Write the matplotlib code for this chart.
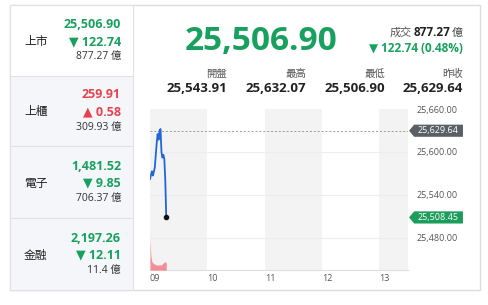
import matplotlib
matplotlib.use("Agg")
import matplotlib.pyplot as plt
from matplotlib.patches import Rectangle, Polygon
from matplotlib.transforms import blended_transform_factory

plt.rcParams['font.family'] = ['Open Sans', 'DejaVu Sans', 'Noto Sans CJK TC']

GREEN = '#17a05e'
RED = '#e5424d'

# sidebar markets
markets = ['上市', '上櫃', '電子', '金融']
market_close = [25506.90, 259.91, 1481.52, 2197.26]
market_change = [-122.74, 0.58, -9.85, -12.11]
market_turnover = ['877.27', '309.93', '706.37', '11.4']

# header
index_value = 25506.90
index_change = -122.74
index_pct = 0.48
turnover = 877.27
stat_labels = ['開盤', '最高', '最低', '昨收']
stat_values = [25543.91, 25632.07, 25506.90, 25629.64]
prev_close = 25629.64

# intraday (minutes after 09:00)
minutes = list(range(18))
prices = [25562, 25568, 25573, 25567, 25572, 25578, 25595, 25612, 25625,
          25617, 25630, 25632, 25600, 25592, 25596, 25590, 25560, 25508.45]
volume = [30, 13, 8, 7, 6, 6, 5, 5, 5, 5, 5, 5, 5, 6, 7, 8, 8, 7]
hour_ticks = [0, 60, 120, 180, 240]
hour_labels = ['09', '10', '11', '12', '13']
price_ticks = [25660, 25600, 25540, 25480]

W, H = 489, 305
fig = plt.figure(figsize=(W / 100, H / 100), dpi=100)
renderer = fig.canvas.get_renderer()

bg = fig.add_axes([0, 0, 1, 1])
bg.set_xlim(0, W)
bg.set_ylim(H, 0)
bg.axis('off')

# outer frame
bg.add_patch(Rectangle((10, 5), 470, 285, fc='white', ec='#dcdcdc', lw=1))

# sidebar cards
card_tops = [5, 76, 146, 218]
card_bottoms = [76, 146, 218, 290]
for i, name in enumerate(markets):
    y0, y1 = card_tops[i], card_bottoms[i]
    fc = 'white' if i == 0 else '#f4f6f9'
    bg.add_patch(Rectangle((10, y0), 123, y1 - y0, fc=fc, ec='#e2e2e2', lw=0.8))
    mid = (y0 + y1) / 2 + 1
    col = GREEN if market_change[i] < 0 else RED
    arrow = '▼' if market_change[i] < 0 else '▲'
    bg.text(24, mid, name, fontsize=8.5, color='#222', va='center', ha='left')
    bg.text(121, mid - 17, f'{market_close[i]:,.2f}', fontsize=9, fontweight='bold',
            color=col, ha='right', va='center')
    bg.text(121, mid, f'{arrow} {abs(market_change[i]):.2f}', fontsize=9, fontweight='bold',
            color=col, ha='right', va='center')
    bg.text(121, mid + 15, f'{market_turnover[i]} 億', fontsize=7.5, color='#333',
            ha='right', va='center')

# header
bg.text(337, 42, f'{index_value:,.2f}', fontsize=24, fontweight='bold', color=GREEN,
        ha='right', va='center')
# "成交 877.27 億" built right to left
xr = 463
for part, kw in (('億', dict(fontsize=8, color='#444')),
                 (f'{turnover:.2f}', dict(fontsize=8.5, color='#222', fontweight='bold')),
                 ('成交', dict(fontsize=8, color='#555'))):
    t = bg.text(xr, 33, part, ha='right', va='center', **kw)
    w = t.get_window_extent(renderer).width
    xr -= w + 1.5
bg.text(463, 49, f'▼ {abs(index_change):.2f} ({index_pct:.2f}%)', fontsize=8.5,
        fontweight='bold', color=GREEN, ha='right', va='center')
stat_x = [227, 306, 385, 463]
for x, lab, val in zip(stat_x, stat_labels, stat_values):
    bg.text(x, 74, lab, fontsize=7.5, color='#555', ha='right', va='center')
    bg.text(x, 88, f'{val:,.2f}', fontsize=9.5, fontweight='bold', color='#222',
            ha='right', va='center')

# price chart
x0, x1 = 150, 408
ytop, ybot = 109, 270
ax = fig.add_axes([x0 / W, 1 - ybot / H, (x1 - x0) / W, (ybot - ytop) / H])
ax.set_xlim(0, 270)
ax.set_ylim(25435, 25660)
ax.set_facecolor('white')
for s in (0, 120, 240):
    ax.axvspan(s, s + 60, color='#f3f3f3', lw=0, zorder=0)
for t in price_ticks[1:]:
    ax.axhline(t, color='#ededed', lw=0.8, zorder=1)
ax.axhline(prev_close, color='#999', lw=0.7, ls=(0, (2, 2)), zorder=2)
ax.plot(minutes, prices, color='#2166d6', lw=1.3, zorder=4)
ax.plot(minutes[-1], prices[-1], 'o', color='#111', ms=3, zorder=5)

for sp in ('top', 'left', 'right'):
    ax.spines[sp].set_visible(False)
ax.spines['bottom'].set_color('#dddddd')
ax.spines['bottom'].set_linewidth(0.8)

ax.set_xticks(hour_ticks)
ax.set_xticklabels(hour_labels, ha='left')
ax.yaxis.tick_right()
ax.set_yticks(price_ticks)
ax.set_yticklabels([f'{t:,.2f}' for t in price_ticks])
ax.tick_params(axis='both', length=0, labelsize=6.5, labelcolor='#555')
ax.tick_params(axis='y', pad=6)
ax.tick_params(axis='x', pad=3)

# price tags
trans = blended_transform_factory(ax.transAxes, ax.transData)
tag_h = 8.5
for val, col in ((prev_close, '#5a5f66'), (prices[-1], '#1d9d5c')):
    ax.add_patch(Polygon([(1.004, val), (1.024, val + tag_h), (1.213, val + tag_h),
                          (1.213, val - tag_h), (1.024, val - tag_h)],
                         closed=True, fc=col, ec='none', transform=trans, clip_on=False))
    ax.text(1.118, val, f'{val:,.2f}', transform=trans, fontsize=6.5, color='white',
            ha='center', va='center', clip_on=False)

# volume
vax = fig.add_axes([x0 / W, 1 - ybot / H, (x1 - x0) / W, 32 / H])
vax.set_xlim(0, 270)
vax.set_ylim(0, max(volume) * 1.05)
vax.fill_between(minutes, volume, 0, color='#f26d75', alpha=0.75, lw=0)
vax.axis('off')

fig.savefig('out.png', dpi=100)
